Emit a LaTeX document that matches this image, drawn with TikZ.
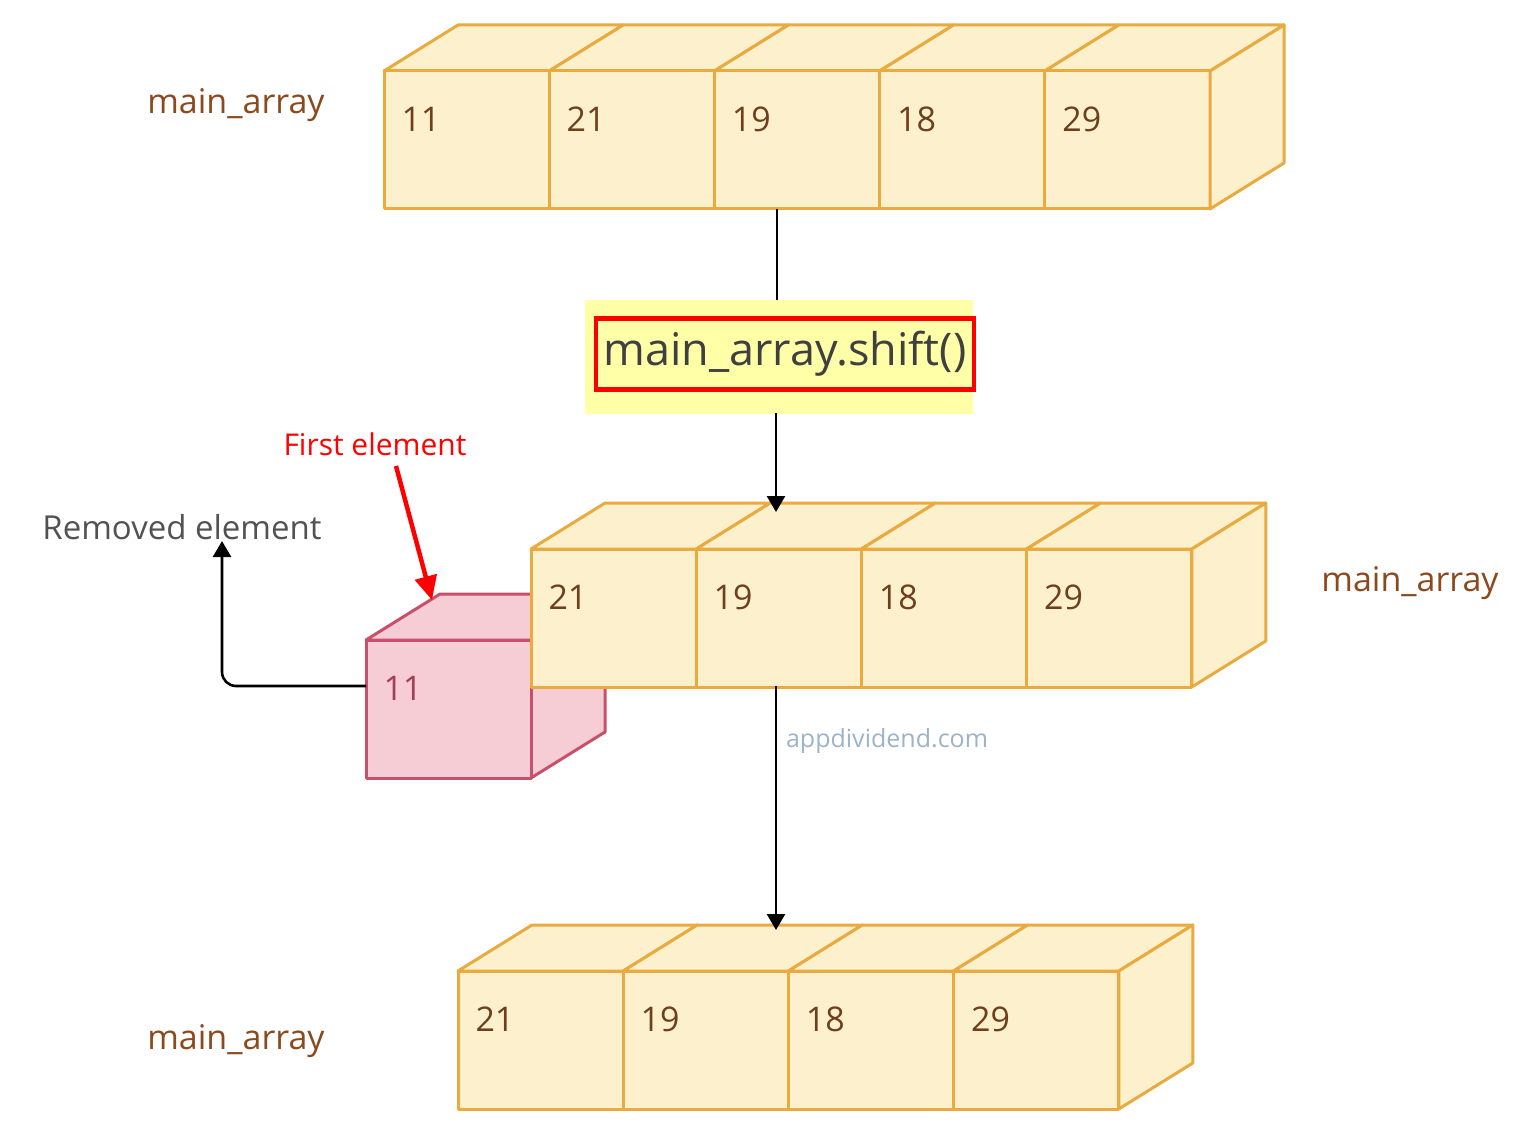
\documentclass[tikz,border=0pt]{standalone}
\usepackage{fontspec}
\setmainfont{Open Sans}
\usetikzlibrary{arrows.meta}
\definecolor{cf}{HTML}{FDF1CD}
\definecolor{cs}{HTML}{E9AA40}
\definecolor{pf}{HTML}{F6CDD4}
\definecolor{ps}{HTML}{C9506A}
\definecolor{br}{HTML}{8A4A1E}
\definecolor{nb}{HTML}{6E3F1C}
\definecolor{yb}{HTML}{FFFFA8}
\definecolor{wmc}{HTML}{9DB3C8}
\begin{document}
\begin{tikzpicture}[x=1pt,y=-1pt,
  face/.style={fill=cf,draw=cs,line width=3pt,line join=round},
  pface/.style={fill=pf,draw=ps,line width=3pt,line join=round},
  num/.style={anchor=west,text=nb,font=\fontsize{34}{38}\selectfont},
  lab/.style={text=br,font=\fontsize{34}{38}\selectfont},
  conn/.style={line width=2.6pt,-{Triangle[length=16pt,width=18pt]}}]
\useasboundingbox (0,0) rectangle (1536,1131);
\newcommand\myarr[5]{%
  \pgfmathsetmacro\ww{#3}
  \foreach \v [count=\i] in {#4} {
    \pgfmathsetmacro\xa{#1+(\i-1)*\ww}
    \draw[face] (\xa+74,#2-46) -- (\xa+\ww+74,#2-46) -- (\xa+\ww,#2) -- (\xa,#2) -- cycle;
    \draw[face] (\xa,#2) rectangle (\xa+\ww,#2+138);
    \node[num] (#5\i) at (\xa+14,#2+48) {\v};
    \xdef\xlast{\xa}
  }
  \pgfmathsetmacro\xe{\xlast+\ww}
  \draw[face] (\xe,#2) -- (\xe+74,#2-46) -- (\xe+74,#2+92) -- (\xe,#2+138) -- cycle;
}
\draw[pface] (440,594) -- (605,594) -- (531,640) -- (366,640) -- cycle;
\draw[pface] (531,640) -- (605,594) -- (605,732) -- (531,778) -- cycle;
\draw[pface] (366,640) rectangle (531,778);
\node[num,text=ps!80!black] (p11) at (380,688) {11};
\myarr{384}{71}{165.2}{11,21,19,18,29}{a}
\myarr{531}{549}{165.2}{21,19,18,29}{b}
\myarr{458}{971}{165.2}{21,19,18,29}{c}
\node[lab] (l1) at (236,105) {main\_array};
\node[lab] (l2) at (1410,583) {main\_array};
\node[lab] (l3) at (236,1041) {main\_array};
\node[fill=yb,minimum width=388pt,minimum height=113pt] (yb) at (779,357) {};
\node[draw=red,line width=4.5pt,minimum width=378pt,minimum height=71pt,inner sep=0pt,
  text=black!75,font=\fontsize{45}{48}\selectfont] (sh) at (785,354) {main\_array.shift()};
\coordinate (t1) at (777,209);
\coordinate (t2) at (777,300);
\coordinate (m1) at (776,413);
\coordinate (m2) at (776,512);
\coordinate (d1) at (776,686);
\coordinate (d2) at (776,930);
\draw[line width=2.6pt] (t1) -- (t2);
\draw[conn] (m1) -- (m2);
\draw[conn] (d1) -- (d2);
\node[text=black!68,font=\fontsize{33}{38}\selectfont] (re) at (182,527) {Removed element};
\coordinate (r1) at (366,686);
\coordinate (r2) at (222,541);
\draw[conn,rounded corners=14pt] (r1) -| (r2);
\node[text=red,font=\fontsize{30}{34}\selectfont] (fe) at (375,444) {First element};
\coordinate (f1) at (396,466);
\coordinate (f2) at (432,600);
\draw[red,line width=4.5pt,-{Triangle[length=24pt,width=22pt]}] (f1) -- (f2);
\node[text=wmc,font=\fontsize{25}{28}\selectfont] (wm) at (887,741) {appdividend.com};
\end{tikzpicture}
\end{document}
